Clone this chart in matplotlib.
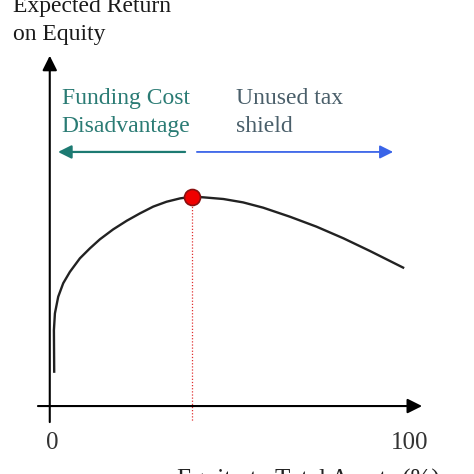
import matplotlib
matplotlib.use("Agg")
import matplotlib.pyplot as plt

# curve: equity / total assets (%) vs expected return
equity_pct = [0.64, 0.56, 0.84, 1.76, 3.16, 5.03, 7.82, 10.6, 13.4, 17.1, 20.9, 24.6,
              28.3, 32.0, 35.8, 39.2, 42.3, 47.9, 53.4, 59.0, 66.5, 73.9, 81.4, 88.8, 98.1]
exp_return = [1.63, 3.60, 4.39, 5.18, 5.82, 6.36, 7.00, 7.47, 7.90, 8.37, 8.78, 9.13,
              9.45, 9.68, 9.84, 9.92, 9.89, 9.81, 9.65, 9.40, 8.97, 8.50, 7.95, 7.35, 6.56]
optimum = (39.2, 9.92)
tick_vals = [0, 100]
tick_labels = ["0", "100"]

plt.rcParams['font.family'] = ['Liberation Serif', 'DejaVu Serif']

fig = plt.figure(figsize=(4.74, 4.74), dpi=100)
ax = fig.add_axes([0, 0, 1, 1])
ax.set_xlim(-14.5, 117.9)
ax.set_ylim(-3.22, 19.24)
ax.axis("off")

# axes drawn as arrows
ax.annotate("", xy=(-0.6, 16.6), xytext=(-0.6, -0.76),
            arrowprops=dict(arrowstyle="-|>", color="black", lw=1.5, mutation_scale=22,
                            shrinkA=0, shrinkB=0))
ax.annotate("", xy=(103.4, 0), xytext=(-3.9, 0),
            arrowprops=dict(arrowstyle="-|>", color="black", lw=1.5, mutation_scale=22,
                            shrinkA=0, shrinkB=0))

ax.plot(equity_pct, exp_return, color="#222222", lw=1.7, solid_joinstyle="round")

# optimum marker + dotted drop line
ax.plot([optimum[0], optimum[0]], [optimum[1], -0.76], color="#e03030", lw=0.9, ls=(0, (1, 1.5)))
ax.plot(*optimum, "o", ms=11.5, mfc="#f00000", mec="#8a1010", mew=1.2, zorder=5)

# direction arrows
ax.annotate("", xy=(1.7, 12.04), xytext=(37.2, 12.04),
            arrowprops=dict(arrowstyle="-|>", color="#1d7a72", lw=1.6, mutation_scale=20,
                            shrinkA=0, shrinkB=0))
ax.annotate("", xy=(95.3, 12.04), xytext=(40.5, 12.04),
            arrowprops=dict(arrowstyle="-|>", color="#3a64e8", lw=1.3, mutation_scale=20,
                            shrinkA=0, shrinkB=0))

ax.text(20.7, 13.9, "Funding Cost\nDisadvantage", ha="center", va="center",
        fontsize=17, color="#2a7b74", linespacing=1.45)
ax.text(51.4, 13.9, "Unused tax\nshield", ha="left", va="center",
        fontsize=17, color="#4a5f6a", linespacing=1.45)

ax.text(-10.9, 18.27, "Expected Return\non Equity", ha="left", va="center",
        fontsize=17, color="#1a1a1a", linespacing=1.45)

for v, lab in zip(tick_vals, tick_labels):
    ax.text(v, -1.75, lab, ha="center", va="center", fontsize=18, color="#333333")

ax.text(34.9, -2.99, "Equity to Total Assets (%)", ha="left", va="top",
        fontsize=18, color="#222222")

fig.savefig("out.png", dpi=100)
